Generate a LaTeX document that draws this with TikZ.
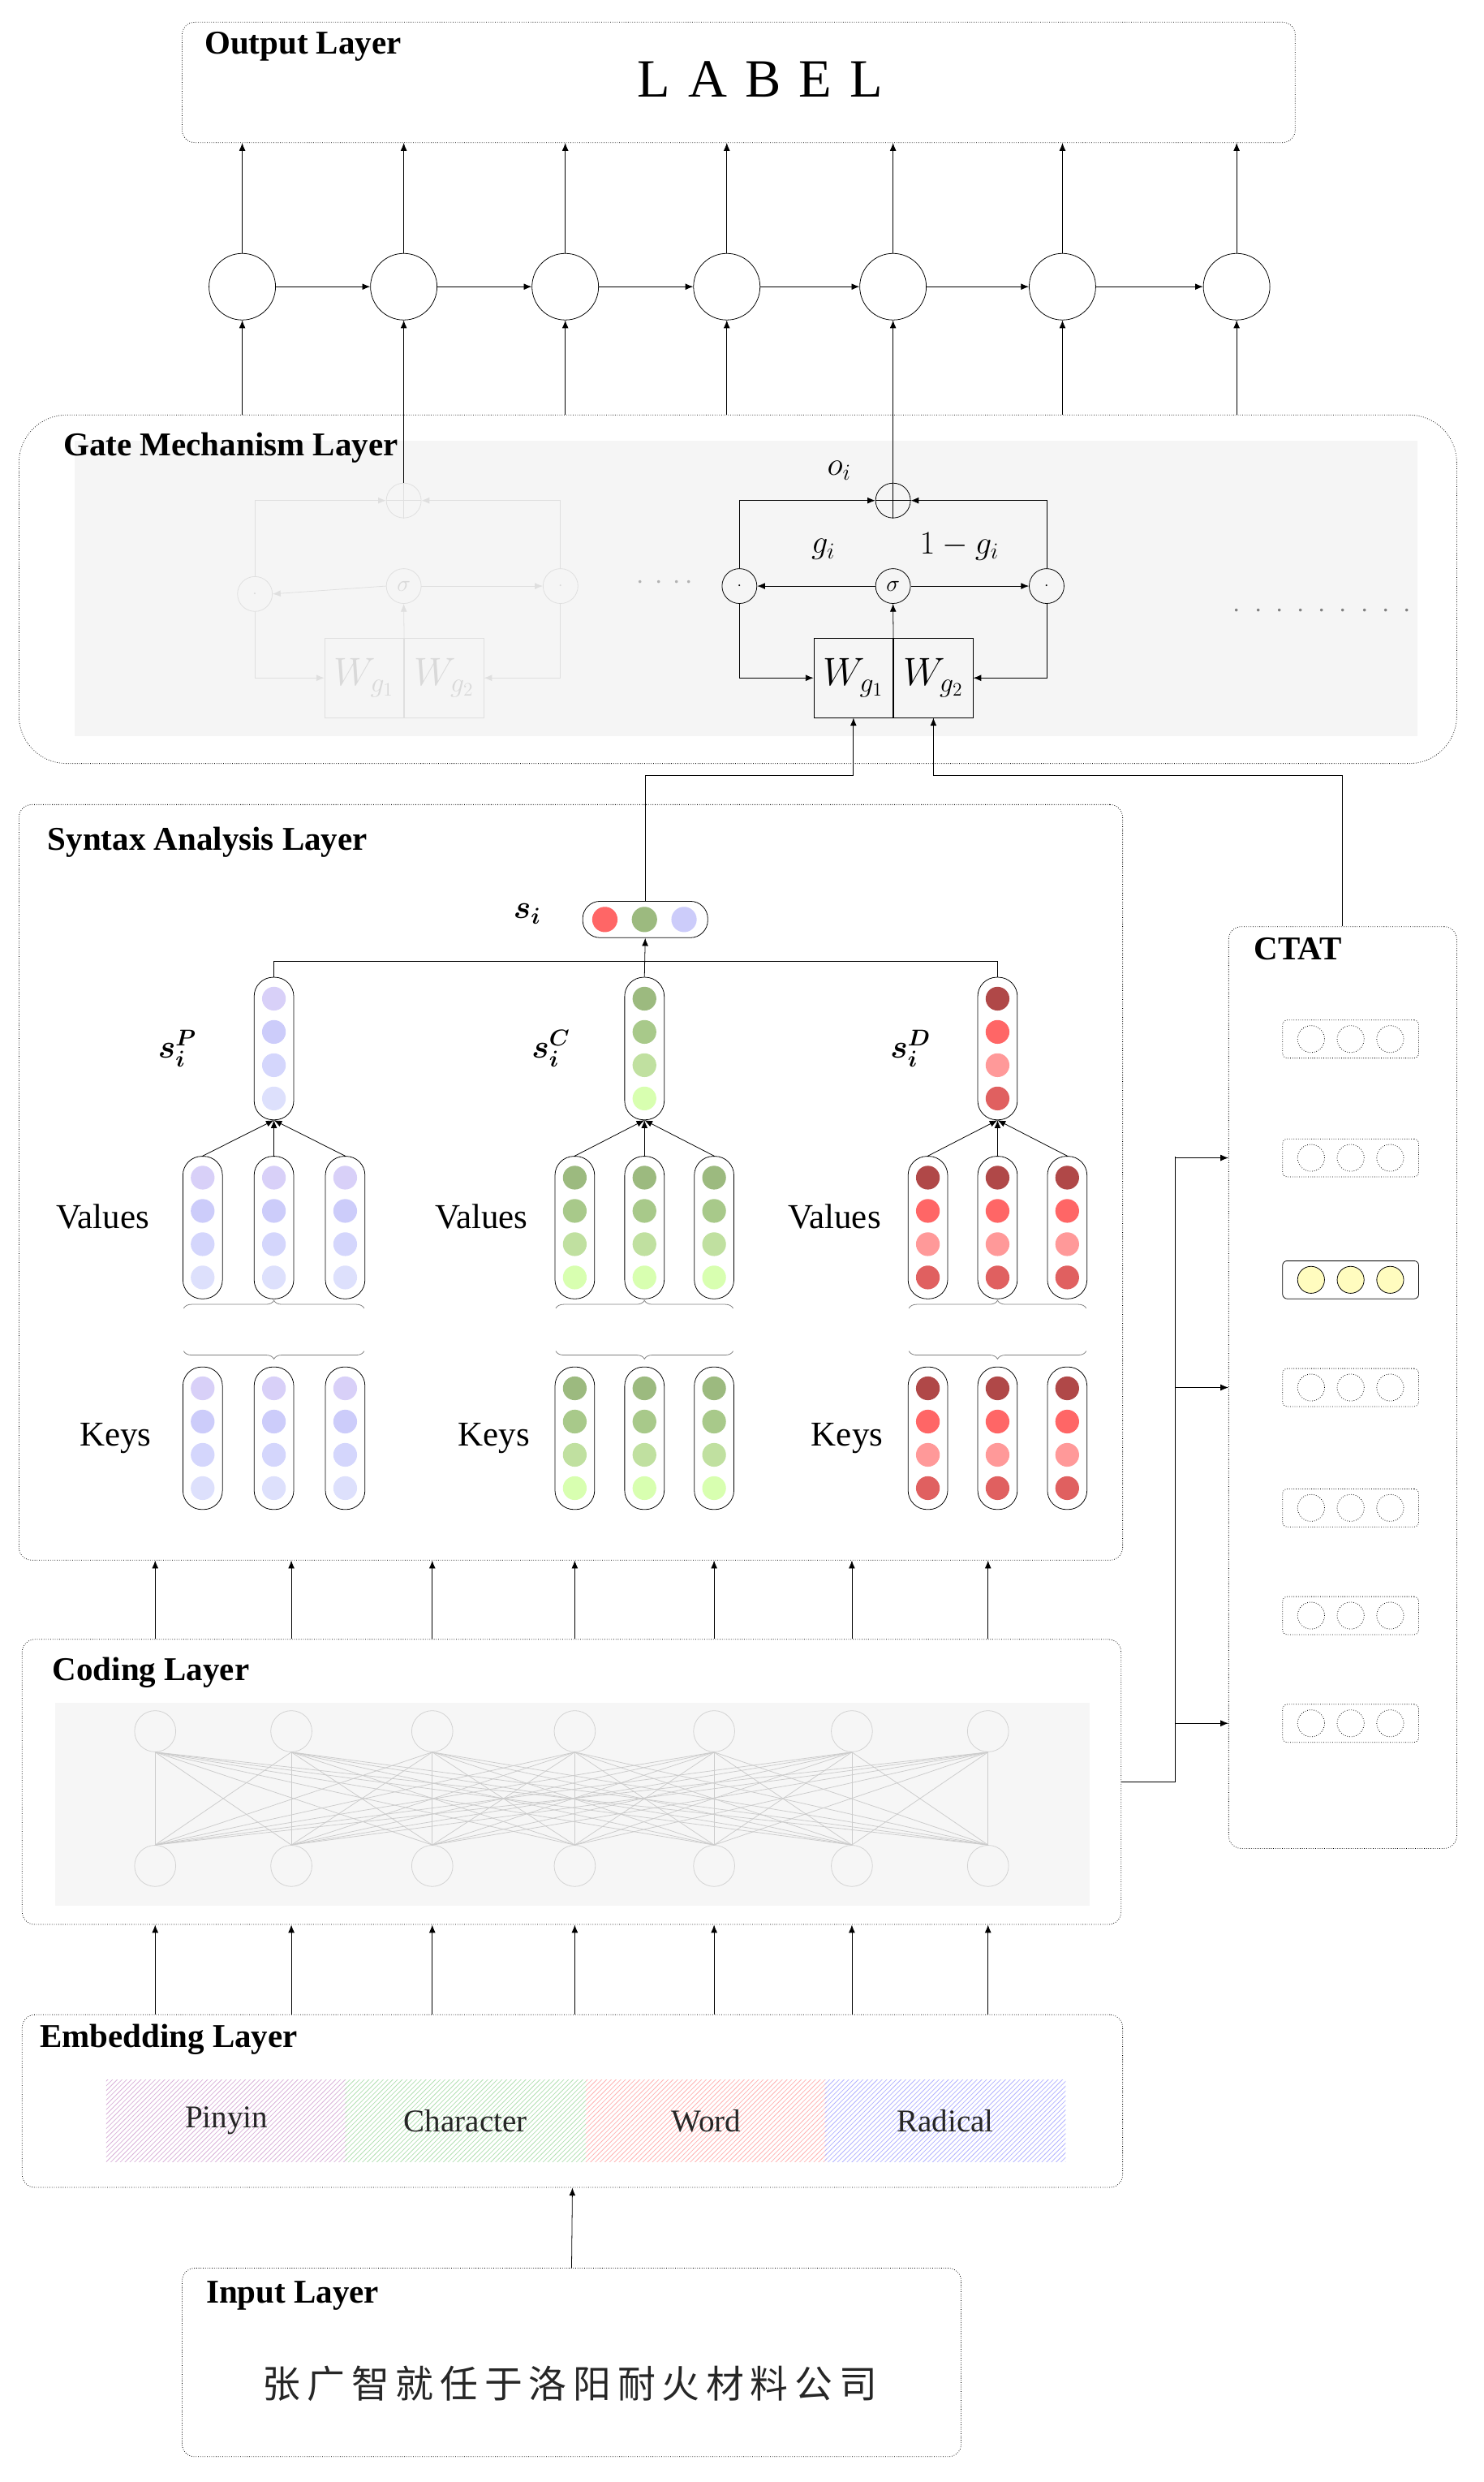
\documentclass[tikz,border=0pt]{standalone}
\usepackage{amsmath}
\usepackage{bm}
\usepackage{fontspec}
\setmainfont{Liberation Serif}
\newfontfamily\cjk{Noto Sans CJK SC}
\usetikzlibrary{arrows.meta,decorations.pathreplacing,patterns,calc}
\definecolor{P1}{HTML}{D8D0F8}\definecolor{P2}{HTML}{CCCCFA}\definecolor{P3}{HTML}{D4D6FC}\definecolor{P4}{HTML}{DDE0FC}
\definecolor{C1}{HTML}{9CBA7F}\definecolor{C2}{HTML}{A8C98A}\definecolor{C3}{HTML}{C0E0A0}\definecolor{C4}{HTML}{D8FFB0}
\definecolor{D1}{HTML}{B04848}\definecolor{D2}{HTML}{FF6666}\definecolor{D3}{HTML}{FF9999}\definecolor{D4}{HTML}{E06060}
\newcommand\mycol[4]{%
  \node[colbox] (#1) at (#2,#3) {};
  \foreach \k/\dy in {1/-31.5,2/-10.5,3/10.5,4/31.5}{\fill[#4\k] (#2,#3+\dy) circle (7.5);}
}
\begin{document}
\begin{tikzpicture}[x=1pt,y=-1pt,
  >={Latex[length=5pt,width=4pt]},
  box/.style={draw,densely dotted,rounded corners=8pt},
  title/.style={font=\fontsize{21}{24}\selectfont\bfseries,anchor=north west,inner sep=0pt},
  lab/.style={font=\fontsize{22}{26}\selectfont},
  rnn/.style={circle,draw,minimum size=42pt,inner sep=0pt},
  gc/.style={circle,draw,minimum size=22pt,inner sep=0pt},
  colbox/.style={draw,rounded corners=12pt,minimum width=25pt,minimum height=90pt,inner sep=0pt},
  ct/.style={draw,densely dotted,rounded corners=3pt,minimum width=86pt,minimum height=24pt,inner sep=0pt},
  cn/.style={draw,densely dotted,circle,minimum size=17pt,inner sep=0pt},
  wb/.style={draw,minimum width=50pt,minimum height=50pt,inner sep=0pt,font=\fontsize{24}{26}\selectfont},
  nn/.style={draw=gray!35,circle,minimum size=26pt,inner sep=0pt},
  strip/.style={minimum width=152pt,minimum height=52pt,inner sep=0pt,font=\fontsize{20}{24}\selectfont}
]
\useasboundingbox (0,0) rectangle (937,1567);
% ---------- Output layer
\node[box,minimum width=703pt,minimum height=76pt] (out) at (466.5,52) {};
\node[title] (outt) at (129,20) {Output Layer};
\node[font=\fontsize{34}{36}\selectfont] (lbl) at (480,50) {L\,\,A\,\,B\,\,E\,\,L};
\foreach \x [count=\i] in {153,255,357,459,564,671,781}{
  \node[rnn] (r\i) at (\x,181) {};
  \draw[->] (r\i.north) -- (r\i.north |- out.south);
}
\foreach \i [evaluate=\i as \j using int(\i+1)] in {1,...,6}{\draw[->] (r\i) -- (r\j);}
% ---------- Gate layer
\node[draw,densely dotted,rounded corners=30pt,minimum width=908pt,minimum height=220pt] (gate) at (466,372) {};
\fill[gray!8] (47,278) rectangle (895,465);
\node[title] (gatet) at (40,273) {Gate Mechanism Layer};
\foreach \i in {1,3,4,6,7}{\draw[->] (r\i.south |- gate.north) -- (r\i.south);}
% faded gate
\begin{scope}[xshift=-309pt,draw=gray!25,text=gray!30]
  \node[gc,draw=gray!25] (fop) at (564,316) {};
  \draw[gray!25] (fop.north)--(fop.south) (fop.west)--(fop.east);
  \node[gc,draw=gray!25] (fdl) at (470,375) {$\cdot$};
  \node[gc,draw=gray!25] (fsg) at (564,370) {\Large$\sigma$};
  \node[gc,draw=gray!25] (fdr) at (663,370) {$\cdot$};
  \node[wb,draw=gray!25] (fW1) at (539,428) {$W_{g_1}$};
  \node[wb,draw=gray!25] (fW2) at (589.5,428) {$W_{g_2}$};
  \draw[gray!25,->] (fdl.north) |- (fop.west);
  \draw[gray!25,->] (fdr.north) |- (fop.east);
  \draw[gray!25,->] (fsg.west) -- (fdl.east);
  \draw[gray!25,->] (fsg.east) -- (fdr.west);
  \draw[gray!25,->] (fdl.south) |- (fW1.west);
  \draw[gray!25,->] (fdr.south) |- (fW2.east);
  \draw[gray!25,->] (fW1.north east) -- (fsg.south);
\end{scope}
\draw[->] (fop.north) -- (r2.south);
\node[gray!60,font=\fontsize{16}{18}\selectfont] (fdots) at (420,368) {$\cdot\,\cdot\,\cdot\,\cdot$};
\node[gray,font=\fontsize{16}{18}\selectfont] (rdots) at (835,386) {$\cdot\;\cdot\;\cdot\;\cdot\;\cdot\;\cdot\;\cdot\;\cdot\;\cdot$};
% active gate
\node[gc] (op) at (564,316) {};
\draw (op.north)--(op.south) (op.west)--(op.east);
\node[gc] (dl) at (467,370) {$\cdot$};
\node[gc] (sg) at (564,370) {\Large$\sigma$};
\node[gc] (dr) at (661,370) {$\cdot$};
\node[wb] (W1) at (539,428) {$W_{g_1}$};
\node[wb] (W2) at (589.5,428) {$W_{g_2}$};
\draw[->] (dl.north) |- (op.west);
\draw[->] (dr.north) |- (op.east);
\draw[->] (sg.west) -- (dl.east);
\draw[->] (sg.east) -- (dr.west);
\draw[->] (dl.south) |- (W1.west);
\draw[->] (dr.south) |- (W2.east);
\draw[->] (W1.north east) -- (sg.south);
\draw[->] (op.north) -- (r5.south);
\node[lab] (oi) at (530,297) {$o_i$};
\node[lab] (gi) at (520,347) {$g_i$};
\node[lab] (omg) at (606,345) {$1-g_i$};
% ---------- Syntax layer
\node[box,minimum width=697pt,minimum height=477pt] (syn) at (360.5,746.5) {};
\node[title] (synt) at (30,522) {Syntax Analysis Layer};
\node[draw,rounded corners=11pt,minimum width=79pt,minimum height=23pt,inner sep=0pt] (si) at (407.5,580.5) {};
\fill[D2] (382,580.5) circle (8); \fill[C1] (407,580.5) circle (8); \fill[P2] (432,580.5) circle (8);
\node[lab] (silab) at (333,577) {$\bm{s_i}$};
\mycol{sP}{173}{662}{P}
\mycol{sC}{407}{662}{C}
\mycol{sD}{630}{662}{D}
\draw (sP.north) -- ++(0,-10) -| (sD.north);
\draw[->] (sC.north) -- (si.south);
\node[lab] (lP) at (112,662) {$\bm{s_i^P}$};
\node[lab] (lC) at (348,662) {$\bm{s_i^C}$};
\node[lab] (lD) at (575,662) {$\bm{s_i^D}$};
\foreach \g/\pre/\xa/\xb/\xc/\lx in {P/P/128/173/218/65,C/C/363/407/451/304,D/D/586/630/674/527}{
  \mycol{v\g1}{\xa}{775}{\pre}\mycol{v\g2}{\xb}{775}{\pre}\mycol{v\g3}{\xc}{775}{\pre}
  \mycol{k\g1}{\xa}{908}{\pre}\mycol{k\g2}{\xb}{908}{\pre}\mycol{k\g3}{\xc}{908}{\pre}
  \foreach \m in {1,2,3}{\draw[->] (v\g\m.north) -- (s\g.south);}
  \node[lab] (vl\g) at (\lx,768) {Values};
  \node[lab] (kl\g) at (\lx+8,908) {Keys};
  \draw[gray,decorate,decoration={brace,amplitude=5pt}] (\xa-12,826) -- (\xc+12,826);
  \draw[gray,decorate,decoration={brace,amplitude=5pt,mirror}] (\xa-12,853) -- (\xc+12,853);
}
\draw[->] (si.north) -- ++(0,-79) -| (W1.south);
% ---------- CTAT
\node[box,minimum width=144pt,minimum height=582pt] (ctat) at (848,876) {};
\node[title] (ctatt) at (792,592) {CTAT};
\draw[->] (ctat.north) -- ++(0,-95) -| (W2.south);
\foreach \y [count=\i] in {656,731,808,876,952,1020,1088}{
  \ifnum\i=3
    \node[draw,rounded corners=3pt,minimum width=86pt,minimum height=24pt,inner sep=0pt] (ct\i) at (853,\y) {};
    \foreach \dx in {-25,0,25}{\node[draw,circle,fill=yellow!25,minimum size=17pt,inner sep=0pt] at (853+\dx,\y) {};}
  \else
    \node[ct] (ct\i) at (853,\y) {};
    \foreach \dx in {-25,0,25}{\node[cn] at (853+\dx,\y) {};}
  \fi
}
% ---------- Coding layer
\node[box,minimum width=694pt,minimum height=180pt] (code) at (361,1125) {};
\fill[gray!7] (35,1075) rectangle (688,1203);
\node[title] (codet) at (33,1046) {Coding Layer};
\foreach \x [count=\i] in {98,184,273,363,451,538,624}{
  \node[nn] (t\i) at (\x,1093) {};
  \node[nn] (b\i) at (\x,1178) {};
  \draw[->] (t\i.north |- code.north) -- (t\i.north |- syn.south);
}
\foreach \i in {1,...,7}{\foreach \j in {1,...,7}{\draw[gray!40,thin] (t\i.south) -- (b\j.north);}}
\coordinate (jn) at (742,1125);
\draw (code.east) -- (jn) -- (742,730);
\foreach \i in {2,4,7}{\draw[->] (742,0 |- ct\i) -- (ctat.west |- ct\i);}
% ---------- Embedding layer
\node[box,minimum width=695pt,minimum height=109pt] (emb) at (361.5,1326.5) {};
\node[title] (embt) at (25,1278) {Embedding Layer};
\foreach \i in {1,...,7}{\draw[->] (b\i.south |- emb.north) -- (b\i.south |- code.south);}
\foreach \c/\xx/\t [count=\i] in {violet/143/Pinyin,green!60!black/294/Character,red/446/Word,blue/597/Radical}{
  \node[strip,fill=\c!6,pattern color=\c!30,pattern=north east lines] (st\i) at (\xx,1339) {};
  \node[strip,text=black!85] (stl\i) at (\xx,1339) {\t};
}
% ---------- Input layer
\node[box,minimum width=492pt,minimum height=119pt] (inp) at (361,1491.5) {};
\node[title] (inpt) at (130,1440) {Input Layer};
\node[font=\cjk\fontsize{24}{28}\selectfont,text=black!85] (sent) at (360,1505) {张\,广\,智\,就\,任\,于\,洛\,阳\,耐\,火\,材\,料\,公\,司};
\draw[->] (inp.north) -- (emb.south);
\end{tikzpicture}
\end{document}
